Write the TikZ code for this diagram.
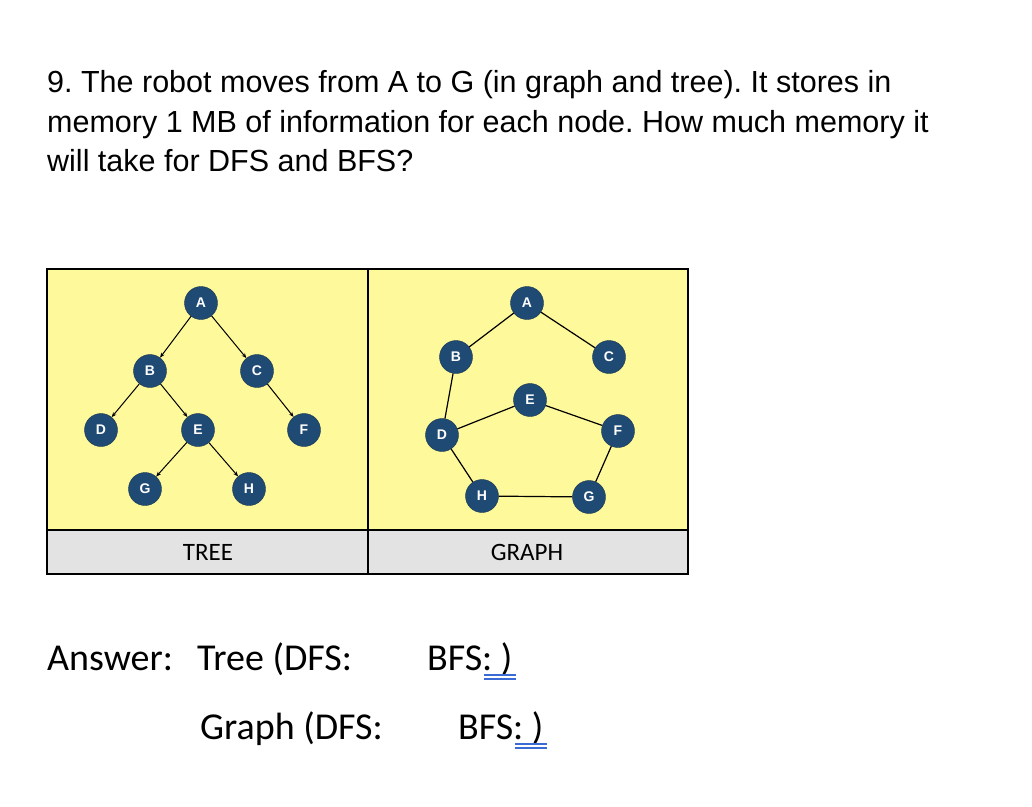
\documentclass[tikz,border=0pt]{standalone}
\usepackage{fontspec}
\setmainfont{Liberation Sans}
\newfontfamily\carl{Carlito}
\usetikzlibrary{arrows.meta}
\definecolor{nodeblue}{HTML}{1F4A73}
\definecolor{pale}{HTML}{FEF99A}
\definecolor{band}{HTML}{E3E3E3}
\definecolor{ulblue}{HTML}{3A6BD4}
\tikzset{
 v/.style={circle,fill=nodeblue,draw=nodeblue!70!black,minimum size=33pt,inner sep=0pt,text=white,font=\fontsize{14}{14}\selectfont\bfseries},
 tr/.style={-{Stealth[length=5pt,width=4pt]},line width=1pt},
 gr/.style={line width=1.2pt},
 q/.style={anchor=base west,font=\frenchspacing\fontsize{30.5}{30.5}\selectfont,inner sep=0},
 ans/.style={anchor=base west,font=\carl\fontsize{38}{38}\selectfont,inner sep=0}
}
\begin{document}
\begin{tikzpicture}[x=1pt,y=-1pt]
\useasboundingbox (0,0) rectangle (1032,806);
\node[q] (q1) at (47,92) {9. The robot moves from A to G (in graph and tree). It stores in};
\node[q] (q2) at (47,132) {memory 1 MB of information for each node. How much memory it};
\node[q] (q3) at (47,171) {will take for DFS and BFS?};
% panels
\fill[pale] (47,269) rectangle (688,530);
\fill[band] (47,530) rectangle (688,574);
\draw[line width=1.5pt] (47,269) rectangle (688,574) (368,269) -- (368,574) (47,530) -- (688,530);
\node[font=\carl\fontsize{25}{25}\selectfont] (tl) at (208,552) {TREE};
\node[font=\carl\fontsize{25}{25}\selectfont] (gl) at (527,552) {GRAPH};
% tree
\node[v] (tA) at (201,303) {A};
\node[v] (tB) at (150,371) {B};
\node[v] (tC) at (257,371) {C};
\node[v] (tD) at (101,430) {D};
\node[v] (tE) at (198,430) {E};
\node[v] (tF) at (304,430) {F};
\node[v] (tG) at (145,489) {G};
\node[v] (tH) at (249,489) {H};
\draw[tr] (tA)--(tB); \draw[tr] (tA)--(tC); \draw[tr] (tB)--(tD); \draw[tr] (tB)--(tE);
\draw[tr] (tC)--(tF); \draw[tr] (tE)--(tG); \draw[tr] (tE)--(tH);
% graph
\node[v] (gA) at (527,303) {A};
\node[v] (gB) at (456,357) {B};
\node[v] (gC) at (609,357) {C};
\node[v] (gE) at (530,400) {E};
\node[v] (gD) at (442,435) {D};
\node[v] (gF) at (618,431) {F};
\node[v] (gH) at (482,496) {H};
\node[v] (gG) at (589,497) {G};
\draw[gr] (gA)--(gB) (gA)--(gC) (gB)--(gD) (gD)--(gE) (gE)--(gF) (gF)--(gG) (gG)--(gH) (gH)--(gD);
% answer
\node[ans] (a0) at (47,670) {Answer:};
\node[ans] (a1) at (197,670) {Tree (DFS:};
\node[ans] (a2) at (427,670) {BFS:\ )};
\node[ans] (a3) at (200,739) {Graph (DFS:};
\node[ans] (a4) at (458,739) {BFS:\ )};
\draw[ulblue,line width=1.3pt] (484,675)--(516,675) (484,679)--(516,679) (515,744)--(547,744) (515,748)--(547,748);
\end{tikzpicture}
\end{document}
